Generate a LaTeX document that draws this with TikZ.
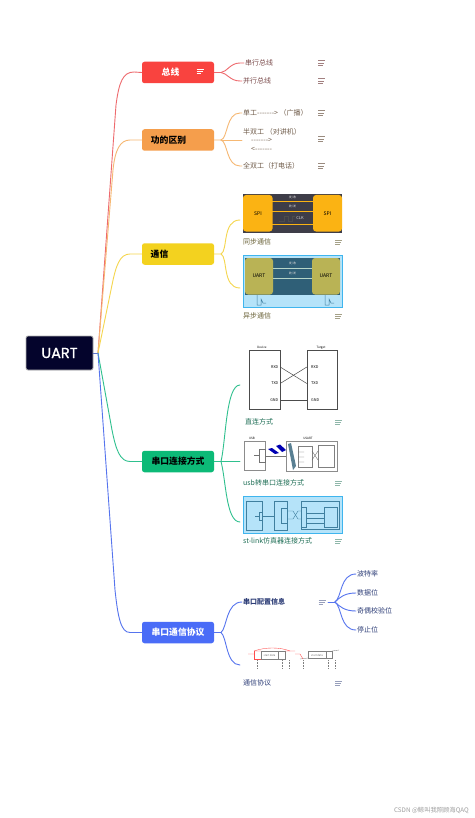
\documentclass[tikz,border=0pt]{standalone}
\usepackage{fontspec}
\setmainfont{Noto Sans CJK SC}
\newfontfamily\rootfont[FakeBold=1]{Poppins}
\newcommand{\dashrun}{-{}-{}-{}-{}-{}-{}-}
\definecolor{cRed}{HTML}{F9433F}
\definecolor{cOrange}{HTML}{F59E4C}
\definecolor{cYellow}{HTML}{F3D21F}
\definecolor{cGreen}{HTML}{0CBA77}
\definecolor{cBlue}{HTML}{4A6CF7}
\definecolor{lRed}{HTML}{EE6A6E}
\definecolor{lOrange}{HTML}{F6B873}
\definecolor{lYellow}{HTML}{F5D64E}
\definecolor{lGreen}{HTML}{2FC08E}
\definecolor{lBlue}{HTML}{5674EE}
\definecolor{tRed}{HTML}{7A4A4A}
\definecolor{tOrange}{HTML}{6E5A48}
\definecolor{tYellow}{HTML}{6A6238}
\definecolor{tGreen}{HTML}{1E6E55}
\definecolor{tBlue}{HTML}{2F3F78}
\definecolor{skyFill}{HTML}{B5E3F9}
\definecolor{skyEdge}{HTML}{3FB5EE}
\definecolor{olive}{HTML}{B9B355}
\definecolor{amber}{HTML}{FBB313}
\definecolor{slate}{HTML}{3F7F9F}
\definecolor{panel}{HTML}{3E3D48}
\tikzset{
  x=1pt,y=-1pt,
  branchbox/.style={rounded corners=2.5pt,minimum width=72pt,minimum height=21.5pt,inner sep=0pt,font=\bfseries\fontsize{8.8}{9}\selectfont},
  leaf/.style={anchor=west,inner sep=1pt,font=\fontsize{7}{8}\selectfont},
  link/.style={line width=0.9pt,line cap=round},
  tiny/.style={inner sep=0pt,font=\fontsize{3}{3}\selectfont},
  thinbox/.style={draw=#1,line width=0.35pt},
  pics/noteicon/.style={code={
    \draw[#1,line width=0.6pt] (-3.5,-2.2) -- (3.5,-2.2) (-3.5,0) -- (2.5,0) (-3.5,2.2) -- (1,2.2);
  }},
}
\begin{document}
\begin{tikzpicture}
\useasboundingbox (0,0) rectangle (474,818);
\fill[white] (0,0) rectangle (474,818);

% root and branches
\node[draw=gray!60,line width=0.8pt,fill={rgb,255:red,4;green,4;blue,44},rounded corners=2pt,minimum width=67pt,minimum height=34pt,inner sep=0pt,text=white,font=\rootfont\fontsize{14.5}{15}\selectfont] (root) at (59.5,353) {UART};
\coordinate (hub) at (98,353);
\node[branchbox,fill=cRed,text=white] (bus) at (178,72.5) {\hspace{-15pt}总线};
\node[branchbox,fill=cOrange] (diff) at (178,140) {\hspace{-19pt}功的区别};
\node[branchbox,fill=cYellow] (comm) at (178,254) {\hspace{-37pt}通信};
\node[branchbox,fill=cGreen] (conn) at (178,461.5) {串口连接方式};
\node[branchbox,fill=cBlue,text=white] (proto) at (178,632.5) {串口通信协议};
\pic at (200,71.5) {noteicon=white};

\draw[lBlue!70!gray,line width=1pt] (root.east) -- (hub);
\draw[link,lRed] (hub) -- (116,105) .. controls (119,82) and (123,72) .. (134,72) -- (bus.west);
\draw[link,lOrange] (hub) -- (113,170) .. controls (115,150) and (120,140) .. (130,140) -- (diff.west);
\draw[link,lYellow] (hub) -- (112,285) .. controls (116,265) and (120,254) .. (130,254) -- (comm.west);
\draw[link,lGreen] (hub) -- (112,430) .. controls (116,450) and (120,461.5) .. (130,461.5) -- (conn.west);
\draw[link,lBlue] (hub) -- (115,590) .. controls (118,618) and (121,632.5) .. (130,632.5) -- (proto.west);

% bus leaves
\coordinate (jb) at (221,72.5);
\node[leaf,text=tRed] (b1) at (244,63) {串行总线};
\node[leaf,text=tRed] (b2) at (242,81) {并行总线};
\draw[link,lRed] (bus.east) -- (jb) .. controls (227,72) and (230,63) .. (240,63) -- (b1.west);
\draw[link,lRed] (jb) .. controls (227,73) and (230,81) .. (240,81) -- (b2.west);
\pic at (321.5,63) {noteicon=tRed!70};
\pic at (321.5,81) {noteicon=tRed!70};

% difference leaves
\coordinate (jd) at (221,140);
\node[leaf,text=tOrange] (d1) at (242,113) {单工\dashrun\textgreater\ （广播）};
\node[leaf,text=tOrange,align=left,font=\fontsize{7}{9}\selectfont] (d2) at (242,140) {半双工 （对讲机）\\[-0.5pt]\hspace{8pt}\dashrun\textgreater\\[-0.5pt]\hspace{8pt}\textless\dashrun};
\node[leaf,text=tOrange] (d3) at (242,166) {全双工（打电话）};
\draw[link,lOrange] (diff.east) -- (jd) .. controls (228,138) and (226,113) .. (240,113) -- (d1.west);
\draw[link,lOrange] (jd) -- (d2.west);
\draw[link,lOrange] (jd) .. controls (228,142) and (226,166) .. (240,166) -- (d3.west);
\pic at (321.5,113) {noteicon=tOrange!70};
\pic at (321.5,139) {noteicon=tOrange!70};
\pic at (321.5,166) {noteicon=tOrange!70};

% SPI picture
\fill[panel] (243,194) rectangle (342,233);
\draw[amber,line width=0.8pt] (272,201.5) -- (313,201.5) (272,211) -- (313,211) (272,224) -- (313,224);
\fill[amber,rounded corners=3pt] (243,195) rectangle (272.5,231.5);
\fill[amber,rounded corners=3pt] (313,195) rectangle (342,231.5);
\node[tiny,font=\fontsize{5}{5}\selectfont] (s1) at (258,214) {SPI};
\node[tiny,font=\fontsize{5}{5}\selectfont] (s2) at (327.5,214) {SPI};
\node[tiny,text=white!85!black] (s3) at (292.5,197.5) {发/收};
\node[tiny,text=white!85!black] (s4) at (292.5,207) {收/发};
\node[tiny,text=white!85!black,font=\fontsize{4}{4}\selectfont] (s5) at (300,218) {CLK};
\draw[black!70,line width=0.3pt] (279,221) -- (284,221) -- (284,216) -- (288,216) -- (288,221) -- (292,221) -- (292,216) -- (295,216);
\node[leaf,text=tYellow] (c1) at (242,242) {同步通信};
\pic at (338.5,242) {noteicon=tYellow!60};

% UART picture
\fill[skyFill] (243,255) rectangle (342,307);
\draw[skyEdge,line width=0.9pt] (243,255) rectangle (342,307);
\fill[slate!75!black] (245,258) rectangle (340,295);
\draw[skyFill!70!olive,line width=0.8pt] (273,268) -- (312,268) (273,278) -- (312,278);
\fill[olive,rounded corners=3pt] (245,258) rectangle (273,294.5);
\fill[olive,rounded corners=3pt] (312,258) rectangle (340,294.5);
\node[tiny,font=\fontsize{5}{5}\selectfont] (u1) at (259,276) {UART};
\node[tiny,font=\fontsize{5}{5}\selectfont] (u2) at (326,276) {UART};
\node[tiny,text=white!85!black] (u3) at (292.5,264) {发/收};
\node[tiny,text=white!85!black] (u4) at (292.5,274) {收/发};
\draw[slate,line width=0.5pt] (257,295) -- (257,305) -- (261,305) -- (261,299) -- (263,303) -- (266,303);
\draw[slate,line width=0.5pt] (325,295) -- (325,305) -- (329,305) -- (329,299) -- (331,303) -- (334,303);
\node[leaf,text=tYellow] (c2) at (242,316) {异步通信};
\pic at (338.5,316) {noteicon=tYellow!60};

\coordinate (jc) at (221,254);
\coordinate (c1end) at (240,220);
\coordinate (c2end) at (240,288);
\draw[link,lYellow] (comm.east) -- (jc) .. controls (228,251) and (222,220) .. (c1end);
\draw[link,lYellow] (jc) .. controls (228,257) and (222,288) .. (c2end);

% direct connection picture
\node[thinbox=black!70,inner sep=0pt,minimum width=31pt,minimum height=59pt] (devA) at (264.5,379.5) {};
\node[thinbox=black!70,inner sep=0pt,minimum width=30pt,minimum height=59pt] (devB) at (322,379.5) {};
\node[tiny] at (262,347.5) (devAt) {Device};
\node[tiny] at (321,347.5) (devBt) {Target};
\node[tiny,anchor=east,font=\fontsize{3.8}{4}\selectfont] (ar) at (278.5,367) {RXD};
\node[tiny,anchor=east,font=\fontsize{3.8}{4}\selectfont] (at) at (278.5,383.5) {TXD};
\node[tiny,anchor=east,font=\fontsize{3.8}{4}\selectfont] (ag) at (278.5,400) {GND};
\node[tiny,anchor=west,font=\fontsize{3.8}{4}\selectfont] (br) at (311,367) {RXD};
\node[tiny,anchor=west,font=\fontsize{3.8}{4}\selectfont] (bt) at (311,383.5) {TXD};
\node[tiny,anchor=west,font=\fontsize{3.8}{4}\selectfont] (bg) at (311,400) {GND};
\draw[black!70,line width=0.5pt] (devA.east |- ar) -- (devB.west |- bt);
\draw[black!70,line width=0.5pt] (devA.east |- at) -- (devB.west |- br);
\draw[black!70,line width=0.5pt] (devA.east |- ag) -- (devB.west |- bg);
\node[leaf,text=tGreen] (g1) at (244,422) {直连方式};
\pic at (338.5,422) {noteicon=tGreen!50};

% usb picture
\begin{scope}
\draw[black!45,line width=0.35pt] (244,441) rectangle (265,470);
\draw[black!55,fill=white,line width=0.35pt] (259,449.5) rectangle (265,462);
\draw[black!55,line width=0.35pt] (254,455.5) -- (259,455.5) (265,456.5) -- (286,456.5);
\fill[blue!70!black] (268,449) -- (272,448) -- (279,453) -- (275,454) -- cycle;
\fill[blue!70!black] (276,446) -- (280,444.5) -- (286,450) -- (282,452) -- cycle;
\draw[black!45,line width=0.35pt] (286,441) rectangle (337,471);
\fill[slate!60!gray] (288,444) -- (291,443) -- (296,466) -- (293,470) -- cycle;
\draw[black!50,line width=0.35pt] (298,446) rectangle (312,467);
\draw[black!50,line width=0.35pt] (318,445) rectangle (334,467);
\draw[black!60,line width=0.35pt] (312,451) -- (318,460) (312,460) -- (318,451) (298,452) -- (304,452) (298,457) -- (304,457) (298,462) -- (304,462);
\node[tiny] (ut1) at (252,438) {USB};
\node[tiny] (ut2) at (308,438) {USART};
\end{scope}
\node[leaf,text=tGreen] (g2) at (242,483) {usb转串口连接方式};
\pic at (338.5,483) {noteicon=tGreen!50};

% st-link picture
\begin{scope}
\fill[skyFill] (243,496) rectangle (342,533);
\draw[skyEdge,line width=0.9pt] (243,496) rectangle (342,533);
\begin{scope}[slate,line width=0.4pt]
\draw (246,501) rectangle (262,530);
\draw (259,512) rectangle (262,520);
\draw (255,516) -- (259,516) (262,516) -- (274,516);
\draw (274,501) rectangle (287,530);
\draw (281,508) rectangle (287,523);
\draw (301,501) rectangle (339,529);
\draw (301,507) rectangle (306,527);
\draw (324,507) rectangle (337,527);
\draw (287,511) -- (293,511) -- (298,519) -- (301,519);
\draw (287,519) -- (293,519) -- (298,511) -- (301,511);
\draw (306,513) -- (324,513) (306,518) -- (324,518) (306,523) -- (324,523);
\end{scope}
\end{scope}
\node[leaf,text=tGreen] (g3) at (242,541) {st-link仿真器连接方式};
\pic at (338.5,541) {noteicon=tGreen!50};

\coordinate (jg) at (221,461.5);
\coordinate (g1end) at (240,385);
\coordinate (g2end) at (240,461.5);
\coordinate (g3end) at (240,522);
\draw[link,lGreen] (conn.east) -- (jg) -- (g2end);
\draw[link,lGreen] (jg) .. controls (226,440) and (226,385) .. (g1end);
\draw[link,lGreen] (jg) .. controls (226,480) and (226,522) .. (g3end);

% protocol
\coordinate (jp) at (221,632.5);
\node[leaf,text=tBlue,font=\bfseries\fontsize{7}{8}\selectfont] (p1) at (242,602) {串口配置信息};
\coordinate (p2end) at (240,665);
\draw[link,lBlue] (proto.east) -- (jp) .. controls (227,628) and (226,602) .. (p1.west);
\draw[link,lBlue] (jp) .. controls (227,637) and (226,665) .. (p2end);
\pic at (322,602) {noteicon=tBlue!50};
\coordinate (jq) at (335,602);
\node[leaf,text=tBlue] (q1) at (356,574) {波特率};
\node[leaf,text=tBlue] (q2) at (356,593) {数据位};
\node[leaf,text=tBlue] (q3) at (356,611) {奇偶校验位};
\node[leaf,text=tBlue] (q4) at (356,630) {停止位};
\draw[link,lBlue] (328,602) -- (jq);
\draw[link,lBlue] (jq) .. controls (342,597) and (340,574) .. (q1.west);
\draw[link,lBlue] (jq) .. controls (340,597) and (345,593) .. (q2.west);
\draw[link,lBlue] (jq) .. controls (340,607) and (345,611) .. (q3.west);
\draw[link,lBlue] (jq) .. controls (342,607) and (340,630) .. (q4.west);

% protocol picture
\draw[black!50,line width=0.35pt] (261,651) rectangle (278,659) (278,651) rectangle (285,659);
\draw[black!50,line width=0.35pt] (308,651) rectangle (326,658) (326,651) rectangle (332,658);
\draw[black!50,line width=0.35pt] (300,659) -- (308,658) (332,651) -- (339,650);
\draw[red!70,line width=0.35pt] (248,654) -- (254,654) (254,651) -- (261,651) (285,651) -- (295,651) (295,654) -- (300,654) -- (303,659);
\draw[red!70,line width=0.35pt] (254,651) .. controls (265,647) and (280,647) .. (290,651);
\draw[red!70,line width=0.35pt] (254,651) -- (254,659) -- (261,659);
\foreach \px in {257,282,289,303,328,335}
  \draw[black!50,line width=0.5pt,dash pattern=on 0.8pt off 0.8pt] (\px,660) -- (\px,669);
\node[tiny,font=\fontsize{2.6}{3}\selectfont,text=black!60] (pp1) at (269.5,655) {start data};
\node[tiny,font=\fontsize{2.6}{3}\selectfont,text=black!60] (pp2) at (317,655) {start data};
\node[leaf,text=tBlue] (p2) at (242,683) {通信协议};
\pic at (338.5,683) {noteicon=tBlue!50};

% watermark
\node[anchor=east,inner sep=0pt,text=gray!75,font=\fontsize{6.3}{7}\selectfont] (wm) at (469,810) {CSDN @鲸叫我照顾海QAQ};
\end{tikzpicture}
\end{document}
